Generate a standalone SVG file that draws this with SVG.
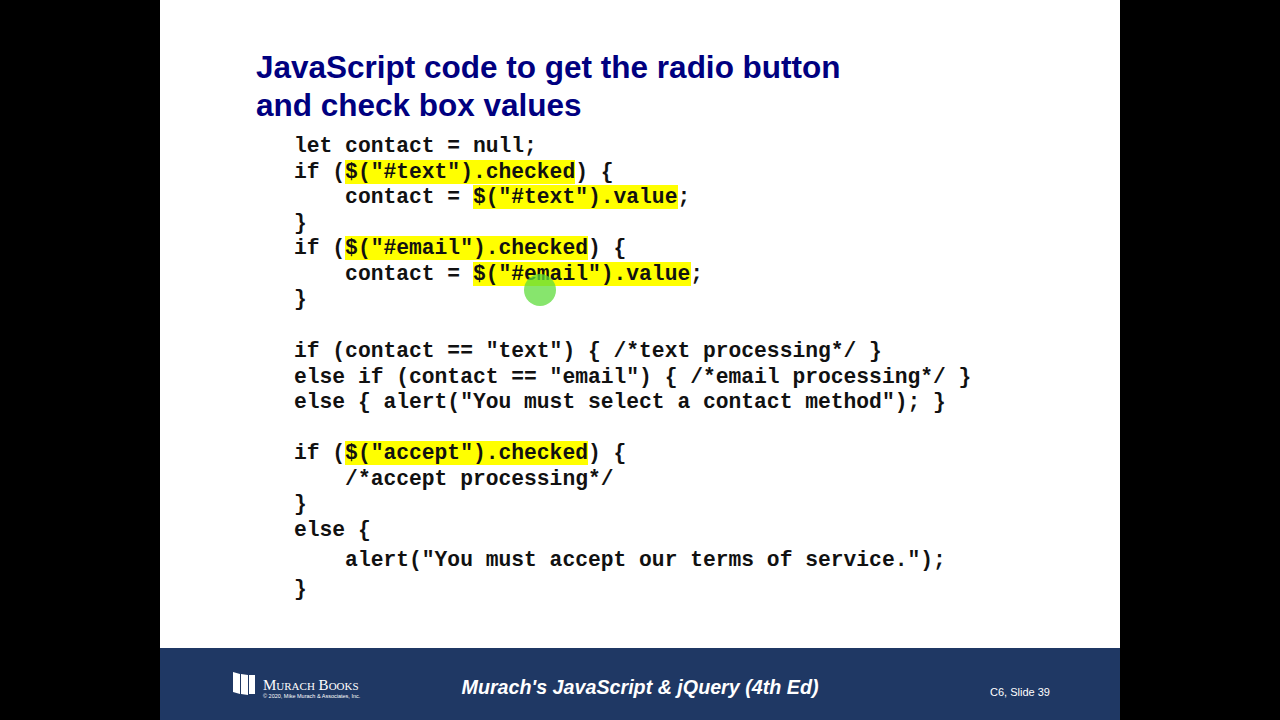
<svg xmlns="http://www.w3.org/2000/svg" width="1280" height="720" viewBox="0 0 1280 720">
<style>
.c{font-family:"Liberation Mono","Courier New",monospace;font-weight:bold;font-size:21.3px;fill:#111;white-space:pre}
.t{font-family:"Liberation Sans",Arial,sans-serif;font-weight:bold;font-size:31.5px;fill:#000080}
.h{fill:#ffff00}
</style>
<rect width="1280" height="720" fill="#000"/>
<rect x="160" y="0" width="960" height="648" fill="#fff"/>
<rect x="160" y="648" width="960" height="72" fill="#1f3864"/>
<text class="t" x="256" y="78">JavaScript code to get the radio button</text>
<text class="t" x="256" y="116">and check box values</text>
<g>
<rect class="h" x="345" y="160" width="230" height="24"/>
<rect class="h" x="473" y="185" width="205" height="24"/>
<rect class="h" x="345" y="236" width="243" height="24"/>
<rect class="h" x="473" y="262" width="218" height="24"/>
<rect class="h" x="345" y="441" width="243" height="24"/>
</g>
<g>
<text class="c" x="294" y="152">let contact = null;</text>
<text class="c" x="294" y="178">if ($("#text").checked) {</text>
<text class="c" x="294" y="203">    contact = $("#text").value;</text>
<text class="c" x="294" y="229">}</text>
<text class="c" x="294" y="254">if ($("#email").checked) {</text>
<text class="c" x="294" y="280">    contact = $("#email").value;</text>
<text class="c" x="294" y="305">}</text>
<text class="c" x="294" y="357">if (contact == "text") { /*text processing*/ }</text>
<text class="c" x="294" y="383">else if (contact == "email") { /*email processing*/ }</text>
<text class="c" x="294" y="408">else { alert("You must select a contact method"); }</text>
<text class="c" x="294" y="459">if ($("accept").checked) {</text>
<text class="c" x="294" y="485">    /*accept processing*/</text>
<text class="c" x="294" y="510">}</text>
<text class="c" x="294" y="536">else {</text>
<text class="c" x="294" y="566">    alert("You must accept our terms of service.");</text>
<text class="c" x="294" y="595">}</text>
</g>
<circle cx="540" cy="290" r="16" fill="#5fdc3c" opacity="0.75"/>
<g fill="#fff">
<path d="M233 672 l7 2 v20 l-7 -2z M241 674 l7 1 v20 l-7 -1z M249 675 l6 0 v19 l-6 0z"/>
<text x="263" y="690" font-family="Liberation Serif,serif" font-size="15">M<tspan font-size="11">URACH</tspan> B<tspan font-size="11">OOKS</tspan></text>
<text x="263" y="698" font-family="Liberation Sans,sans-serif" font-size="5.5">© 2020, Mike Murach &amp; Associates, Inc.</text>
<text x="640" y="694" text-anchor="middle" font-family="Liberation Sans,Arial,sans-serif" font-weight="bold" font-style="italic" font-size="19.7">Murach's JavaScript &amp; jQuery (4th Ed)</text>
<text x="1020" y="696" text-anchor="middle" font-family="Liberation Sans,Arial,sans-serif" font-size="11">C6, Slide 39</text>
</g>
</svg>
